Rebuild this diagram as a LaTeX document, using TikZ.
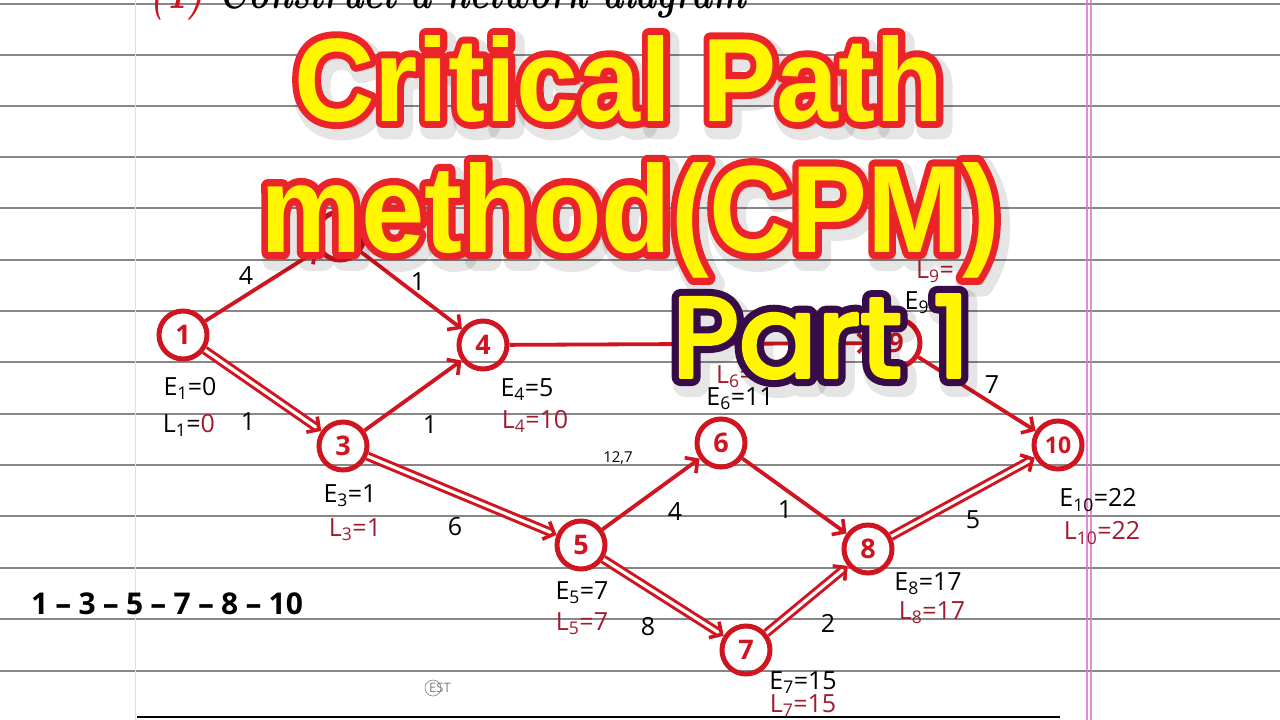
\documentclass[tikz,border=0pt]{standalone}
\usepackage{fontspec}
\usepackage{graphicx}
\usetikzlibrary{arrows.meta}
\newfontface\titleFill{Liberation Sans Bold}
\newfontface\titleOut{Liberation Sans Bold}[FakeBold=11.5]
\newfontface\titleShadow{Liberation Sans Bold}[FakeBold=19]
\newfontface\partPlain{Poppins}
\newfontface\partFill{Poppins}[FakeBold=3.5]
\newfontface\partOut{Poppins}[FakeBold=16]
\newfontface\partShadow{Poppins}[FakeBold=23]
\newfontfamily\hand{Open Sans}
\definecolor{handred}{RGB}{208,20,32}
\definecolor{lred}{RGB}{160,28,45}
\definecolor{tyellow}{RGB}{255,246,0}
\definecolor{tred}{RGB}{234,36,40}
\definecolor{ppurple}{RGB}{55,12,72}
\definecolor{paperline}{RGB}{95,95,95}
\definecolor{pinkline}{RGB}{222,120,205}
% measure the plain text once, scale all copies by the same factors
\newsavebox\measurebox
\newlength\mw \newlength\mh
\sbox\measurebox{\titleFill Critical Path}\setlength\mw{\wd\measurebox}\setlength\mh{\ht\measurebox}
\pgfmathsetmacro\sxA{650pt/\mw}\pgfmathsetmacro\syA{86pt/\mh}
\sbox\measurebox{\titleFill method(CPM)}\setlength\mw{\wd\measurebox}\setlength\mh{\ht\measurebox}
\pgfmathsetmacro\sxB{740pt/\mw}\pgfmathsetmacro\syB{90pt/\mh}
\sbox\measurebox{\partPlain Part 1}\setlength\mw{\wd\measurebox}\setlength\mh{\ht\measurebox}
\pgfmathsetmacro\sxC{298pt/\mw}\pgfmathsetmacro\syC{82pt/\mh}
\newcommand\hdash{\kern7pt\scalebox{1.7}[1]{-}\kern7pt}
\tikzset{
  evnode/.style={circle, draw=handred, line width=5pt, minimum size=48pt, inner sep=0pt,
    text=handred, font=\hand\bfseries\fontsize{27}{27}\selectfont},
  edge/.style={draw=handred, line width=3.8pt,
    -{Straight Barb[length=9pt,width=19pt,line width=3.6pt]}},
  crit/.style={edge, line width=3pt, double=white, double distance=3.2pt},
  lab/.style={inner sep=0pt, font=\hand\fontsize{25}{25}\selectfont, text=black},
  wt/.style={inner sep=0pt, font=\hand\fontsize{25}{25}\selectfont, text=black},
  pline/.style={draw=paperline, line width=1.1pt, opacity=0.75},
  ttl/.style={anchor=base, inner sep=0pt, line join=round},
  ttlshadow/.style={ttl, text=black, text opacity=0.10, xshift=5pt, yshift=-7pt}
}
\begin{document}
\begin{tikzpicture}[x=1pt,y=-1pt]
\useasboundingbox (0,0) rectangle (1280,720);
\clip (0,0) rectangle (1280,720);
\fill[white] (0,0) rectangle (1280,720);
% ruled paper
\foreach \yy in {4,55,106,157,208,260,311,362,414,465,516,568,619,671}{
  \draw[pline] (0,\yy) -- (1280,\yy);}
\draw[gray!25, line width=1pt] (135,0) -- (135,720);
\draw[pinkline, line width=1.3pt, opacity=0.85] (1087,0) -- (1087,720);
\draw[pinkline, line width=1.3pt, opacity=0.85] (1091,0) -- (1091,720);
\draw[black, line width=2.5pt] (137,717) -- (1060,717);
% partly cut heading on the page
\node[anchor=base west, inner sep=0pt] (head) at (149,9)
  {\resizebox{597pt}{36pt}{\fontsize{30}{30}\selectfont\bfseries\itshape\textcolor{handred}{(1)} Construct a network diagram}};
% events
\node[evnode] (n1) at (183,335) {1};
\node[evnode] (n2) at (340,236) {2};
\node[evnode] (n3) at (343,446) {3};
\node[evnode] (n4) at (483,345) {4};
\node[evnode] (n5) at (581,545) {5};
\node[evnode] (n6) at (721,443) {6};
\node[evnode] (n7) at (746,650) {7};
\node[evnode] (n8) at (868,549) {8};
\node[evnode] (n9) at (896,343) {9};
\node[evnode, font=\hand\bfseries\fontsize{23}{23}\selectfont] (n10) at (1058,445) {10};
% activities
\draw[edge] (n1) -- (n2);
\draw[edge] (n2) -- (n4);
\draw[crit] (n1) -- (n3);
\draw[edge] (n3) -- (n4);
\draw[crit] (n3) -- (n5);
\draw[edge] (n4) -- (n9);
\draw[edge] (n5) -- (n6);
\draw[crit] (n5) -- (n7);
\draw[edge] (n6) -- (n8);
\draw[crit] (n7) -- (n8);
\draw[crit] (n8) -- (n10);
\draw[edge] (n9) -- (n10);
% durations
\node[wt] (w12) at (246,276) {4};
\node[wt] (w24) at (418,282) {1};
\node[wt] (w13) at (248,422) {1};
\node[wt] (w34) at (430,425) {1};
\node[wt] (w35) at (455,527) {6};
\node[wt] (w56) at (675,512) {4};
\node[wt] (w68) at (785,510) {1};
\node[wt] (w57) at (648,627) {8};
\node[wt] (w78) at (828,623) {2};
\node[wt] (w810) at (973,520) {5};
\node[wt] (w910) at (992,385) {7};
\node[inner sep=0pt, font=\hand\fontsize{15}{15}\selectfont] (note) at (618,458) {12,7};
% event times
\node[lab] (e1) at (190,388) {E\textsubscript{1}=0};
\node[lab] (l1) at (189,425) {L\textsubscript{1}=\textcolor{lred}{0}};
\node[lab] (e4) at (527,390) {E\textsubscript{4}=5};
\node[lab, text=lred] (l4) at (535,421) {L\textsubscript{4}=10};
\node[lab] (e3) at (350,496) {E\textsubscript{3}=1};
\node[lab, text=lred] (l3) at (355,530) {L\textsubscript{3}=1};
\node[lab] (e5) at (582,593) {E\textsubscript{5}=7};
\node[lab, text=lred] (l5) at (582,624) {L\textsubscript{5}=7};
\node[lab] (e6) at (740,399) {E\textsubscript{6}=11};
\node[lab, text=lred] (l6) at (735,377) {L\textsubscript{6}=};
\node[lab] (e7) at (803,683) {E\textsubscript{7}=15};
\node[lab, text=lred] (l7) at (803,706) {L\textsubscript{7}=15};
\node[lab] (e8) at (928,584) {E\textsubscript{8}=17};
\node[lab, text=lred] (l8) at (932,613) {L\textsubscript{8}=17};
\node[lab] (e9) at (924,303) {E\textsubscript{9}=};
\node[lab, text=lred] (l9) at (935,272) {L\textsubscript{9}=};
\node[lab] (e10) at (1098,500) {E\textsubscript{10}=22};
\node[lab, text=lred] (l10) at (1102,533) {L\textsubscript{10}=22};
% critical path
\node[inner sep=0pt, font=\hand\bfseries\fontsize{30}{30}\selectfont] (cp) at (167,604)
  {1\hdash3\hdash5\hdash7\hdash8\hdash10};
\node[inner sep=0pt, font=\hand\fontsize{13}{13}\selectfont, text=gray] (est) at (440,688) {EST};
\draw[gray, line width=0.6pt] (est.center) ++(-7pt,0) circle (8pt);
% title
\node[ttlshadow] (t1s) at (619,121) {\scalebox{\sxA}[\syA]{\titleShadow Critical Path}};
\node[ttl, text=tred] (t1o) at (619,121) {\scalebox{\sxA}[\syA]{\titleOut Critical Path}};
\node[ttl, text=tyellow] (t1) at (619,121) {\scalebox{\sxA}[\syA]{\titleFill Critical Path}};
\node[ttlshadow] (t2s) at (630,252) {\scalebox{\sxB}[\syB]{\titleShadow method(CPM)}};
\node[ttl, text=tred] (t2o) at (630,252) {\scalebox{\sxB}[\syB]{\titleOut method(CPM)}};
\node[ttl, text=tyellow] (t2) at (630,252) {\scalebox{\sxB}[\syB]{\titleFill method(CPM)}};
\node[ttlshadow] (t3s) at (821,377) {\scalebox{\sxC}[\syC]{\partShadow Part 1}};
\node[ttl, text=ppurple] (t3o) at (821,377) {\scalebox{\sxC}[\syC]{\partOut Part 1}};
\node[ttl, text=tyellow] (t3) at (821,377) {\scalebox{\sxC}[\syC]{\partFill Part 1}};
\end{tikzpicture}
\end{document}
